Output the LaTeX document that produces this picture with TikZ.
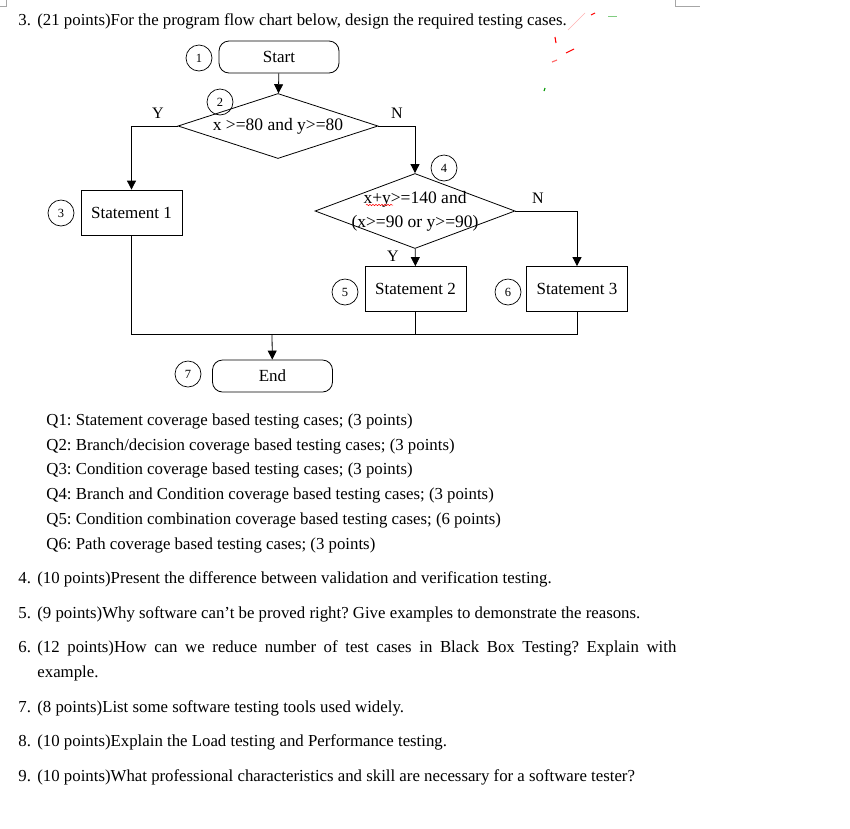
\documentclass[tikz,border=0pt]{standalone}
\usepackage{fontspec}
\setmainfont{Liberation Serif}
\usetikzlibrary{positioning,shapes.geometric,arrows.meta,decorations.pathmorphing}
\frenchspacing

\begin{document}
\begin{tikzpicture}[
    x=1pt, y=-1pt,
    line width=0.8pt,
    term/.style={draw, rounded corners=10pt, minimum width=120pt, minimum height=32pt, inner sep=0pt, font=\fontsize{17}{20}\selectfont},
    stmt/.style={draw, rectangle, minimum width=101pt, minimum height=45pt, inner sep=0pt, font=\fontsize{17}{20}\selectfont},
    decision/.style={draw, diamond, minimum width=200pt, minimum height=65pt, inner sep=0pt},
    dtext/.style={align=center, inner sep=0pt, font=\fontsize{17.5}{24}\selectfont},
    num/.style={draw, circle, minimum size=26pt, inner sep=0pt, line width=0.7pt, font=\fontsize{12.5}{13}\selectfont},
    yn/.style={inner sep=0pt, font=\fontsize{16}{18}\selectfont},
    flow/.style={-{Triangle[length=9pt,width=9pt]}},
    body/.style={anchor=base west, inner sep=0pt, font=\fontsize{16.8}{19}\selectfont},
    cornermark/.style={black!35, line width=0.8pt},
    spell/.style={line width=1.1pt},
]
\path[fill=white] (0,0) rectangle (850,828);
\useasboundingbox (0,0) rectangle (850,828);

% page corner marks and spell-check specks
\draw[cornermark] (0,6) -- (6,6) -- (6,0);
\draw[cornermark] (675,0) -- (675,6) -- (700,6);
\draw[spell, red] (591,15) -- (595,13);
\draw[spell, red] (555,37) -- (556,43);
\draw[spell, red] (566,53) -- (574,49);
\draw[spell, red!60] (552,62) -- (557,60);
\draw[spell, red!30, line width=0.5pt] (568,30) -- (585,13);
\draw[spell, green!60!black!50, line width=0.6pt] (608,16) -- (617,16);
\draw[spell, green!60!black] (544,91) -- (545,88);

% heading
\node[body] (n3) at (18,25) {3.};
\node[body] (title) at (37,25) {(21 points)For the program flow chart below, design the required testing cases.};

% flow chart
\node[term] (start) at (279,57) {Start};
\node[decision, label={[dtext]center:x >=80 and y>=80}] (d1) at (278,126) {};
\node[stmt] (s1) at (131.5,212.5) {Statement 1};
\node[decision, minimum height=75pt, label={[dtext]center:x+y>=140 and\\(x>=90 or y>=90)}] (d2) at (415,211) {};
\node[stmt] (s2) at (415.5,289) {Statement 2};
\node[stmt] (s3) at (577,289) {Statement 3};
\node[term] (end) at (272.5,376) {End};
\coordinate (jn) at (272,334);

\node[num] (c1) at (199,58) {1};
\node[num] (c2) at (220,102) {2};
\node[num] (c3) at (61,213) {3};
\node[num] (c4) at (444,168) {4};
\node[num] (c5) at (345,292) {5};
\node[num] (c6) at (508,292) {6};
\node[num] (c7) at (188,374) {7};

\node[yn] (y1) at (158,113) {Y};
\node[yn] (n1) at (397,113) {N};
\node[yn] (n2) at (538,198) {N};
\node[yn] (y2) at (393,256) {Y};

\draw[red, line width=0.5pt, decorate, decoration={snake, amplitude=0.7pt, segment length=3pt}] (366,205) -- (393,205);

\draw[flow] (start) -- (d1);
\draw[flow] (d1.west) -| (s1);
\draw[flow] (d1.east) -| (d2);
\draw[flow] (d2.east) -| (s3);
\draw[flow] (d2) -- (s2);
\draw (s1.south) |- (s3.south |- jn) -- (s3.south);
\draw (s2.south) -- (s2.south |- jn);
\draw[flow] (jn) -- (end);

% sub-questions
\foreach \n/\yy/\txt in {
  1/425/{Statement coverage based testing cases; (3 points)},
  2/450/{Branch/decision coverage based testing cases; (3 points)},
  3/474/{Condition coverage based testing cases; (3 points)},
  4/499/{Branch and Condition coverage based testing cases; (3 points)},
  5/524/{Condition combination coverage based testing cases; (6 points)},
  6/549/{Path coverage based testing cases; (3 points)}} {
  \node[body] (q\n) at (46,\yy) {Q\n: \txt};
}

% further questions
\foreach \n/\yy/\txt in {
  4/583/{(10 points)Present the difference between validation and verification testing.},
  5/618/{(9 points)Why software can’t be proved right? Give examples to demonstrate the reasons.},
  7/712/{(8 points)List some software testing tools used widely.},
  8/746/{(10 points)Explain the Load testing and Performance testing.},
  9/781/{(10 points)What professional characteristics and skill are necessary for a software tester?}} {
  \node[body] (k\n) at (18,\yy) {\n.};
  \node[body] (p\n) at (37,\yy) {\txt};
}
\node[body] (k6) at (18,652) {6.};
\node[body] (p6) at (37,652) {\makebox[639pt][s]{(12 points)How can we reduce number of test cases in Black Box Testing? Explain with}};
\node[body] (p6b) at (37,677) {example.};
\end{tikzpicture}
\end{document}
